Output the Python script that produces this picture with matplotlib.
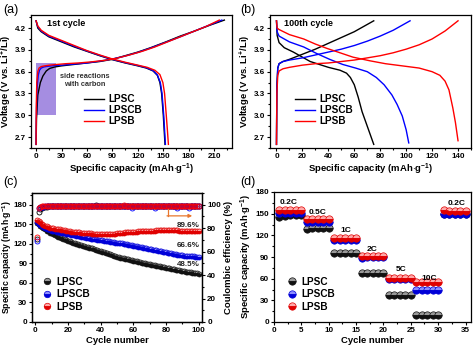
# Charge/discharge curves, cycling and rate capability (4 panels)
import numpy as np
import matplotlib
matplotlib.use('Agg')
import matplotlib.pyplot as plt
from matplotlib.ticker import MultipleLocator
from matplotlib.patches import Rectangle

plt.rcParams['font.family'] = ['Liberation Sans', 'DejaVu Sans']
plt.rcParams['font.weight'] = 'bold'
plt.rcParams['axes.labelweight'] = 'bold'
plt.rcParams['mathtext.fontset'] = 'custom'
plt.rcParams['mathtext.rm'] = 'Liberation Sans:bold'
plt.rcParams['mathtext.bf'] = 'Liberation Sans:bold'
plt.rcParams['mathtext.default'] = 'bf'

names = ['LPSC', 'LPSCB', 'LPSB']
line_colors = ['#000000', '#0000ff', '#ff0000']
light_colors = ['#9a9a9a', '#8c8cff', '#ffa8a8']
dark_colors = ['#111111', '#0000d8', '#e00000']

# (a) 1st cycle
a_chg_cap = [
    [0, 0.5, 2, 5, 8, 12, 16, 22, 30, 45, 60, 75, 90, 105, 120, 135, 153, 170, 187, 205, 222],
    [0, 0.3, 1, 2.5, 4, 6, 9, 14, 22, 30, 45, 60, 75, 90, 105, 120, 135, 152, 170, 187, 204, 219],
    [0, 0.2, 0.8, 2, 3.5, 6, 10, 16, 25, 35, 50, 65, 80, 95, 110, 125, 140, 155, 170, 185, 200, 216],
]
a_chg_v = [
    [2.6, 2.95, 3.28, 3.45, 3.54, 3.61, 3.645, 3.665, 3.68, 3.70, 3.72, 3.74, 3.77, 3.82, 3.87, 3.93, 4.01, 4.09, 4.16, 4.24, 4.31],
    [2.6, 3.0, 3.35, 3.55, 3.62, 3.65, 3.665, 3.675, 3.685, 3.69, 3.705, 3.72, 3.745, 3.775, 3.815, 3.865, 3.925, 4.0, 4.08, 4.16, 4.24, 4.31],
    [2.6, 3.1, 3.45, 3.6, 3.65, 3.67, 3.68, 3.69, 3.70, 3.71, 3.72, 3.735, 3.755, 3.785, 3.83, 3.88, 3.94, 4.01, 4.08, 4.15, 4.22, 4.31],
]
a_dis_cap = [
    [0, 2, 6, 15, 30, 45, 60, 75, 90, 105, 120, 130, 138, 143, 146, 148, 150, 151, 152],
    [0, 2, 6, 15, 30, 45, 60, 75, 90, 105, 120, 130, 138, 143, 146.5, 148.5, 150.5, 151.5, 152.5],
    [0, 2, 6, 15, 30, 45, 60, 75, 90, 105, 120, 131, 140, 146, 149.5, 151.5, 153.5, 154.8, 156],
]
a_dis_v = [
    [4.3, 4.2, 4.15, 4.08, 4.01, 3.94, 3.88, 3.82, 3.765, 3.72, 3.68, 3.65, 3.61, 3.55, 3.45, 3.3, 3.0, 2.8, 2.6],
    [4.3, 4.22, 4.16, 4.09, 4.02, 3.95, 3.885, 3.825, 3.77, 3.725, 3.685, 3.655, 3.615, 3.555, 3.45, 3.3, 3.0, 2.8, 2.6],
    [4.3, 4.23, 4.17, 4.1, 4.03, 3.96, 3.89, 3.83, 3.775, 3.73, 3.69, 3.66, 3.62, 3.56, 3.45, 3.3, 3.0, 2.8, 2.6],
]

# (b) 100th cycle
b_chg_cap = [
    [0, 0.3, 1, 2, 5, 10, 20, 30, 40, 50, 60, 70, 75],
    [0, 0.3, 1, 2, 5, 10, 20, 30, 40, 50, 60, 70, 80, 90, 103],
    [0, 0.3, 1, 2, 5, 10, 20, 30, 40, 50, 60, 70, 80, 90, 100, 110, 120, 130, 140],
]
b_chg_v = [
    [2.6, 3.4, 3.65, 3.71, 3.74, 3.77, 3.84, 3.91, 3.99, 4.07, 4.15, 4.25, 4.3],
    [2.6, 3.4, 3.65, 3.71, 3.74, 3.76, 3.79, 3.83, 3.87, 3.91, 3.96, 4.02, 4.09, 4.17, 4.3],
    [2.6, 3.3, 3.55, 3.61, 3.64, 3.66, 3.69, 3.71, 3.72, 3.74, 3.76, 3.79, 3.82, 3.86, 3.91, 3.97, 4.05, 4.16, 4.3],
]
b_dis_cap = [
    [0, 0.5, 2, 6, 13, 20, 26, 33, 40, 49, 54, 57, 60, 63, 66, 69, 72, 75],
    [0, 0.5, 2, 10, 21, 31, 41, 51, 61, 70, 77, 83, 89, 93, 97, 100, 102],
    [0, 0.5, 2, 10, 21, 30, 39, 49, 59, 72, 84, 97, 110, 120, 126, 130, 133, 136, 138, 140],
]
b_dis_v = [
    [4.3, 4.1, 4.0, 3.93, 3.87, 3.8, 3.74, 3.70, 3.66, 3.62, 3.58, 3.52, 3.42, 3.25, 3.05, 2.9, 2.75, 2.6],
    [4.3, 4.15, 4.09, 4.01, 3.94, 3.85, 3.77, 3.7, 3.65, 3.6, 3.52, 3.42, 3.28, 3.15, 2.99, 2.8, 2.62],
    [4.3, 4.2, 4.18, 4.11, 4.05, 3.98, 3.92, 3.86, 3.8, 3.75, 3.71, 3.68, 3.65, 3.6, 3.55, 3.47, 3.35, 3.1, 2.9, 2.65],
]

# (c) cycling at 100 cycles
cycles = np.arange(1, 101)
cap_lpsc = [
    152, 150, 148, 146, 144, 142, 140, 139, 137, 136,
    135, 133, 132, 131, 130, 129, 128, 127, 126, 125,
    124, 123, 122, 121, 120, 119, 118, 117.5, 117, 116,
    115, 114.5, 114, 113.5, 113, 112, 111, 110, 109, 108.5,
    108, 107, 106, 105.5, 105, 104, 103, 102, 101, 100.5,
    100, 99, 98.5, 98, 97, 96.5, 96, 95, 94.5, 94,
    93.5, 93, 92.5, 92, 91, 90.5, 90, 89.5, 89, 88.5,
    88, 87.5, 87, 86.5, 86, 85.5, 85, 84.5, 84, 83.5,
    83, 82.5, 82, 81.5, 81, 80.5, 80, 79.5, 79, 78.5,
    78, 77.5, 77, 76.5, 76, 75.5, 75, 74.8, 74.5, 74,
]
cap_lpscb = [
    153, 151, 149, 147, 145.5, 144, 143, 142, 141, 140,
    139.5, 139, 138.5, 138, 137.5, 137, 136.5, 136, 135.5, 135,
    134.5, 134, 133.5, 133, 132.5, 132, 131.5, 131, 130.5, 130,
    129.5, 129, 128.5, 128, 128, 127.5, 127, 126.5, 126, 126,
    125.5, 125, 124.5, 124, 124, 123.5, 123, 122.5, 122, 122,
    121.5, 121, 120.5, 120, 119.5, 119, 118.5, 118, 117.5, 117,
    116.5, 116, 115.5, 115, 114.5, 114, 113.5, 113, 112.5, 112,
    111.5, 111, 110.5, 110, 109.5, 109, 108.5, 108, 107.5, 107,
    106.5, 106, 105.5, 105, 104.5, 104, 103.5, 103, 102.5, 102.5,
    102, 102, 101.5, 101.5, 101, 101, 101, 100.5, 100.5, 100.5,
]
cap_lpsb = [
    157, 155, 153, 151, 149.5, 148, 147, 146, 145, 144.5,
    144, 143.5, 143, 142.5, 142, 141.5, 141, 140.5, 140, 139.5,
    139, 138.5, 138.5, 138, 138, 137.5, 137.5, 137, 137, 136.5,
    136.5, 136, 136, 136, 135.5, 135.5, 135.5, 135, 135, 135,
    135, 135, 135, 135, 135, 135.5, 135.5, 135.5, 135.5, 136,
    136, 136.5, 137, 137, 137.5, 137.5, 138, 138, 138, 138.5,
    138.5, 138.5, 139, 139, 139, 139, 139.5, 139.5, 139.5, 139.5,
    140, 140, 140, 140.5, 141, 141, 141, 141, 141, 141,
    141, 140.5, 140.5, 140.5, 140.5, 140.5, 140.5, 140, 140, 140,
    140, 140, 140, 140, 140, 140, 140, 140, 140, 140,
]
ce_lpsc = [
    70.5, 93.5, 96.5, 97.4, 97.9, 98.2, 98.4, 98.5, 98.6, 98.6,
    98.7, 98.6, 98.7, 98.8, 98.7, 98.8, 98.7, 98.8, 98.9, 98.8,
    98.8, 98.9, 98.8, 98.9, 98.8, 98.9, 98.9, 98.8, 98.9, 98.9,
    98.9, 98.8, 98.9, 99.0, 98.9, 99.0, 99.6, 98.9, 99.0, 98.9,
    99.0, 98.9, 99.0, 99.0, 98.9, 99.0, 99.0, 98.9, 99.0, 99.0,
    99.0, 98.9, 99.0, 99.1, 99.0, 99.0, 99.1, 99.0, 99.0, 99.1,
    99.0, 99.1, 99.0, 99.1, 99.0, 99.1, 99.1, 99.0, 99.1, 99.1,
    99.0, 99.1, 99.1, 99.0, 99.1, 99.1, 99.1, 99.0, 99.1, 99.1,
    99.1, 99.0, 99.1, 99.1, 99.1, 99.1, 99.0, 99.1, 99.1, 99.1,
    99.1, 99.1, 99.0, 99.1, 99.1, 99.1, 99.1, 99.1, 99.1, 99.1,
]
ce_lpscb = [
    69.0, 96.8, 97.8, 98.2, 98.4, 98.5, 98.6, 98.6, 98.7, 98.7,
    98.7, 98.8, 98.7, 98.8, 98.8, 98.8, 98.9, 98.8, 98.8, 98.9,
    98.9, 98.8, 98.9, 98.9, 98.9, 98.8, 98.9, 98.9, 99.0, 98.9,
    98.9, 99.0, 98.9, 98.9, 99.0, 98.9, 99.0, 99.0, 98.9, 99.0,
    99.0, 98.9, 99.0, 99.0, 99.0, 98.9, 99.0, 99.0, 99.0, 99.0,
    98.9, 99.0, 99.0, 99.0, 99.0, 99.0, 99.0, 98.9, 97.5, 99.0,
    99.0, 99.0, 99.0, 99.0, 99.0, 99.0, 99.0, 99.0, 99.0, 99.0,
    99.0, 99.0, 97.0, 99.0, 99.0, 99.0, 99.0, 99.0, 99.0, 99.0,
    99.0, 99.0, 99.0, 99.0, 99.0, 99.0, 96.8, 99.0, 99.0, 99.0,
    99.0, 99.0, 99.0, 97.4, 99.0, 99.0, 99.0, 99.0, 99.0, 99.0,
]
ce_lpsb = [
    72.5, 97.3, 98.1, 98.5, 98.7, 98.8, 98.9, 99.0, 99.0, 99.1,
    99.1, 99.1, 99.2, 99.2, 99.2, 99.2, 99.3, 99.2, 99.3, 99.3,
    99.3, 99.2, 99.3, 99.3, 99.3, 99.3, 99.2, 99.3, 99.3, 99.3,
    99.3, 99.3, 99.3, 99.2, 99.3, 99.3, 99.3, 99.3, 99.3, 99.3,
    99.3, 99.3, 99.2, 99.3, 99.3, 99.3, 99.3, 99.3, 99.3, 99.3,
    99.3, 99.3, 99.3, 99.6, 99.3, 99.3, 99.3, 99.3, 99.2, 99.3,
    99.3, 99.3, 99.3, 99.3, 99.3, 99.3, 99.3, 99.3, 99.3, 99.3,
    99.3, 99.2, 99.3, 99.3, 99.3, 99.3, 99.3, 99.3, 99.3, 99.3,
    99.3, 99.3, 99.3, 99.3, 99.3, 99.3, 99.3, 99.3, 99.3, 99.3,
    99.3, 99.3, 99.3, 99.3, 99.3, 99.3, 99.3, 99.3, 99.3, 99.3,
]
retention = ['48.5%', '66.6%', '89.6%']

# (d) rate capability
rate_cycles = np.arange(1, 36)
rate_lpsc = [146, 147, 147.5, 148, 148.5, 129, 129.5, 130, 130, 130,
             96, 96, 96, 96, 96, 68, 68, 68, 68, 68,
             38, 38, 38, 38, 38, 10, 10, 10, 10, 10,
             150, 150, 150, 150, 150]
rate_lpscb = [151, 151, 151, 151, 151, 138, 138, 138, 138, 138,
              114, 114, 114, 114, 114, 89, 90, 90, 90, 90,
              60, 60, 60, 60, 60, 45, 45, 45, 45, 45,
              150, 150, 150, 150, 150]
rate_lpsb = [155.5, 155.5, 155.5, 155.5, 155.5, 142, 142, 142, 142, 142,
             116, 116, 116, 116, 116, 91.5, 91.5, 91.5, 91.5, 91.5,
             61.5, 61.5, 61.5, 61.5, 61.5, 55.5, 55.5, 55.5, 55.5, 55.5,
             154.5, 154, 154, 154, 154]
rate_labels = ['0.2C', '0.5C', '1C', '2C', '5C', '10C', '0.2C']

W, H = 474, 349
fig = plt.figure(figsize=(W / 100, H / 100), dpi=100)


def box(l, r, t, b):
    return [l / W, 1 - b / H, (r - l) / W, (b - t) / H]


def style(ax, size=5.8):
    ax.tick_params(which='both', direction='out', labelsize=size, width=0.8, pad=1.2)
    ax.tick_params(which='major', length=2.5)
    ax.tick_params(which='minor', length=1.5)
    for s in ax.spines.values():
        s.set_linewidth(0.9)


cap_label = 'Specific capacity (mAh$\\cdot$g$^{-1}$)'
volt_label = 'Voltage (V vs. Li$^{+}$/Li)'
lab_size = 6.8

# ---- (a)
ax1 = fig.add_axes(box(31, 232, 15, 148))
ax1.add_patch(Rectangle((-0.5, 3.0), 23.5, 0.72, facecolor='#9579dc', alpha=0.85,
                        edgecolor='none', zorder=0))
for i in range(3):
    ax1.plot(a_chg_cap[i], a_chg_v[i], color=line_colors[i], lw=1.0, label=names[i])
    ax1.plot(a_dis_cap[i], a_dis_v[i], color=line_colors[i], lw=1.0)
ax1.set_xlim(-6, 231)
ax1.set_ylim(2.55, 4.38)
ax1.xaxis.set_major_locator(MultipleLocator(30))
ax1.xaxis.set_minor_locator(MultipleLocator(15))
ax1.yaxis.set_major_locator(MultipleLocator(0.3))
ax1.yaxis.set_minor_locator(MultipleLocator(0.15))
ax1.set_xlabel(cap_label, fontsize=lab_size, labelpad=1)
ax1.set_ylabel(volt_label, fontsize=lab_size, labelpad=0.5)
ax1.text(13, 4.26, '1st cycle', fontsize=6.5, fontweight='bold', va='center')
ax1.text(57, 3.48, 'side reactions\nwith carbon', fontsize=5.3, color='#333333',
         ha='center', va='center', linespacing=1.1)
ax1.legend(loc='upper left', bbox_to_anchor=(0.24, 0.44), frameon=False, fontsize=7.2,
           handlelength=2.0, handletextpad=0.4, labelspacing=0.1, borderpad=0)
style(ax1)
fig.text(3 / W, 1 - 10 / H, '(a)', fontsize=9, fontweight='normal', va='center')

# ---- (b)
ax2 = fig.add_axes(box(270, 471, 15, 148))
for i in range(3):
    ax2.plot(b_chg_cap[i], b_chg_v[i], color=line_colors[i], lw=1.0, label=names[i])
    ax2.plot(b_dis_cap[i], b_dis_v[i], color=line_colors[i], lw=1.0)
ax2.set_xlim(-5, 150)
ax2.set_ylim(2.55, 4.38)
ax2.xaxis.set_major_locator(MultipleLocator(20))
ax2.xaxis.set_minor_locator(MultipleLocator(10))
ax2.yaxis.set_major_locator(MultipleLocator(0.3))
ax2.yaxis.set_minor_locator(MultipleLocator(0.15))
ax2.set_xlabel(cap_label, fontsize=lab_size, labelpad=1)
ax2.set_ylabel(volt_label, fontsize=lab_size, labelpad=0.5)
ax2.text(6, 4.26, '100th cycle', fontsize=6.5, fontweight='bold', va='center')
ax2.legend(loc='upper left', bbox_to_anchor=(0.1, 0.44), frameon=False, fontsize=7.2,
           handlelength=2.0, handletextpad=0.4, labelspacing=0.1, borderpad=0)
style(ax2)
fig.text(240 / W, 1 - 10 / H, '(b)', fontsize=9, fontweight='normal', va='center')

# ---- (c)
ax3 = fig.add_axes(box(32, 202, 193, 322))
ax3r = ax3.twinx()
caps = [cap_lpsc, cap_lpscb, cap_lpsb]
ces = [ce_lpsc, ce_lpscb, ce_lpsb]
for i in range(3):
    ax3.plot(cycles, caps[i], 'o', ms=3.6, fillstyle='top', mfc=light_colors[i],
             mfcalt=dark_colors[i], mec=dark_colors[i], mew=0.5, label=names[i])
    ax3r.plot(cycles, ces[i], 'o', ms=3.6, mfc='none', mec=line_colors[i], mew=0.6)
ax3.set_xlim(-2, 102)
ax3.set_ylim(0, 198)
ax3r.set_ylim(0, 110)
ax3.xaxis.set_major_locator(MultipleLocator(20))
ax3.xaxis.set_minor_locator(MultipleLocator(10))
ax3.yaxis.set_major_locator(MultipleLocator(30))
ax3.yaxis.set_minor_locator(MultipleLocator(15))
ax3r.yaxis.set_major_locator(MultipleLocator(20))
ax3r.yaxis.set_minor_locator(MultipleLocator(10))
ax3.set_xlabel('Cycle number', fontsize=lab_size, labelpad=1)
ax3.set_ylabel(cap_label, fontsize=6.2, labelpad=0)
ax3r.set_ylabel('Coulombic efficiency (%)', fontsize=lab_size, labelpad=2)
for txt, yv in zip(retention, [89, 117, 148]):
    ax3.text(100.5, yv, txt, fontsize=5.8, ha='right', va='center', color='#222222')
ax3r.plot([81, 81], [96.5, 90.5], color='#e8762c', lw=0.9)
ax3r.annotate('', xy=(96, 90.5), xytext=(80.6, 90.5),
              arrowprops=dict(arrowstyle='-|>', color='#e8762c', lw=0.9,
                              mutation_scale=5, shrinkA=0, shrinkB=0))
ax3.legend(loc='lower left', bbox_to_anchor=(0.03, 0.04), frameon=False, fontsize=7.2,
           handlelength=1.0, handletextpad=0.4, labelspacing=0.25, borderpad=0,
           markerscale=1.3)
style(ax3)
style(ax3r)
ax3.tick_params(axis='y', pad=0.8)
fig.text(3 / W, 1 - 182 / H, '(c)', fontsize=9, fontweight='normal', va='center')

# ---- (d)
ax4 = fig.add_axes(box(274, 471, 192, 322))
rates = [rate_lpsc, rate_lpscb, rate_lpsb]
for i in range(3):
    ax4.plot(rate_cycles, rates[i], 'o', ms=5.3, fillstyle='top', mfc=light_colors[i],
             mfcalt=dark_colors[i], mec=dark_colors[i], mew=0.5, label=names[i])
ax4.set_xlim(0, 36)
ax4.set_ylim(0, 180)
ax4.xaxis.set_major_locator(MultipleLocator(5))
ax4.xaxis.set_minor_locator(MultipleLocator(2.5))
ax4.yaxis.set_major_locator(MultipleLocator(30))
ax4.yaxis.set_minor_locator(MultipleLocator(15))
ax4.set_xlabel('Cycle number', fontsize=lab_size, labelpad=1)
ax4.set_ylabel(cap_label, fontsize=lab_size, labelpad=1)
for txt, xv, yv in zip(rate_labels, [2.6, 7.9, 13.1, 18.0, 23.2, 28.3, 33.4],
                       [166, 151, 126, 101, 73, 60, 164]):
    ax4.text(xv, yv, txt, fontsize=6, ha='center', va='center')
ax4.legend(loc='lower left', bbox_to_anchor=(0.04, 0.04), frameon=False, fontsize=7.2,
           handlelength=1.0, handletextpad=0.4, labelspacing=0.25, borderpad=0)
style(ax4)
fig.text(240 / W, 1 - 182 / H, '(d)', fontsize=9, fontweight='normal', va='center')

fig.savefig('out.png', dpi=100)
